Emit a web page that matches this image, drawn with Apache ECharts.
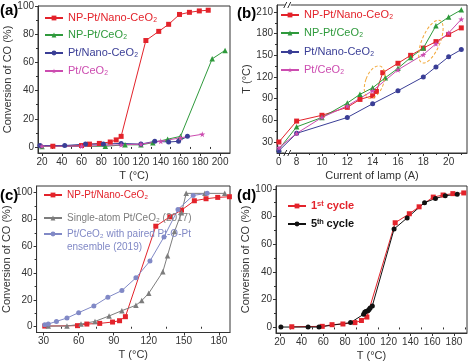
<!DOCTYPE html>
<html><head><meta charset="utf-8">
<script src="https://cdn.jsdelivr.net/npm/echarts@6/dist/echarts.min.js"></script>
<style>html,body{margin:0;padding:0;background:#fff}#c{width:474px;height:363px}</style>
</head><body><div id="c"></div>
<script>
// ---------- DATA ----------
// Panel (a): CO conversion vs T
const aRedT = [31, 60, 68, 78, 89, 95, 100, 125, 138, 148, 159, 169, 179, 188];
const aRedC = [0.5, 1, 2, 2.5, 3.5, 5, 7.5, 75.5, 82, 87, 94, 95.5, 96.5, 97];
const aGreenT = [20, 84, 104, 120, 132, 147, 160, 192, 205];
const aGreenC = [0.3, 0.5, 1.5, 1.5, 3, 5.5, 7.5, 62.5, 68.5];
const aBlueT = [18, 43, 64, 82, 100, 120, 134, 148, 158, 167];
const aBlueC = [1, 1, 2, 2, 2.5, 2, 4, 3.5, 4, 7.5];
const aPinkT = [20, 60, 100, 120, 140, 160, 182];
const aPinkC = [0.5, 0.5, 1.5, 2, 4, 6.5, 9];
// Panel (b): T vs current of lamp
const bRedI = [0, 8, 10, 12, 13, 14, 14.3, 14.8, 16, 17, 18, 19, 20, 21];
const bRedT = [30, 59, 67, 78, 89, 94, 100, 126, 139, 150, 160, 169, 179, 188];
const bGreenI = [0, 8, 10, 12, 13, 14, 15, 16, 17, 18, 19, 20, 21];
const bGreenT = [20, 51, 64, 84, 96, 105, 119, 132, 147, 160, 191, 203, 213];
const bBlueI = [0, 8, 12, 14, 16, 18, 19, 20, 21];
const bBlueT = [18, 42, 64, 83, 101, 120, 134, 148, 158];
const bPinkI = [0, 8, 10, 12, 14, 16, 18, 19, 20, 21];
const bPinkT = [22, 42, 64, 80, 101, 130, 151, 166, 181, 200];
// Panel (c): comparison with literature
const cRedT = [31, 59, 67, 78, 89, 95, 100, 126, 138, 148, 159, 169, 179, 189];
const cRedC = [0.5, 0.8, 2, 2.5, 3.5, 4.5, 7.5, 75, 82, 87, 94, 95.5, 96.5, 97];
const cGreyT = [34, 50, 62, 74, 86, 97, 109, 114, 120, 132, 136, 142, 148, 152, 168, 185];
const cGreyC = [0.5, 0.5, 2, 4, 8, 12, 16, 19.5, 25, 41, 53, 71, 85, 99.5, 99.5, 99.5];
const cBlueT = [31, 34, 41, 50, 60, 73, 85, 97, 109, 121, 133, 145, 158, 170];
const cBlueC = [1.5, 2, 4, 6.5, 10.5, 15.5, 22, 27, 36.5, 49, 67, 87.5, 98, 99.5];
// Panel (d): cycling
const d1T = [31, 59, 68, 78, 89, 95, 100, 126, 139, 148, 161, 170, 179, 189];
const d1C = [0.5, 0.8, 2, 2.5, 3.5, 5, 7.5, 75.5, 82, 87, 94, 95.5, 96.5, 97];
const d5T = [21, 46, 56, 85, 97, 98, 99, 101, 102, 103, 105, 125, 137, 153, 163, 172, 183];
const d5C = [0.3, 0.3, 0.3, 3.5, 9.5, 11, 11.5, 12, 13, 14, 15.5, 71, 79, 90, 93, 95, 96];
// Tick labels
const aXTicks = [20, 40, 60, 80, 100, 120, 140, 160, 180, 200];
const pctTicks = [0, 20, 40, 60, 80, 100];
const bXTicks = [0, 8, 10, 12, 14, 16, 18, 20];
const bYTicks = [30, 60, 90, 120, 150, 180, 210];
const cXTicks = [30, 60, 90, 120, 150, 180];
const dXTicks = [20, 40, 60, 80, 100, 120, 140, 160, 180];

// ---------- STYLE ----------
const FONT = 'Liberation Sans, Arial, Helvetica, sans-serif';
const AX = '#333';
const RED = '#e3232b', GREEN = '#2f9a3c', NAVY = '#3a3e96', PINK = '#cc4cb0';
const GREY = '#7d7d7d', LBLUE = '#8189c6', BLACK = '#111';
const STAR = 'path://M50,0 L61,35 L98,35 L68,57 L79,91 L50,70 L21,91 L32,57 L2,35 L39,35 Z';
// panel (b) broken axis: current 0 is drawn just left of 8
const B_ZERO = 6.6;
const bMap = v => (v < 8 ? B_ZERO : v);

const grids = [
  {left: 38, top: 6, width: 192, height: 147},
  {left: 277, top: 5, width: 190, height: 148},
  {left: 35, top: 186, width: 195, height: 146.5},
  {left: 276, top: 186, width: 191, height: 147}
].map(g => Object.assign(g, {show: true, borderColor: AX, borderWidth: 1, backgroundColor: 'transparent'}));

const xAxes = [], yAxes = [];
function addAxes(gi, xc, yc) {
  const base = (c, isX) => ({
    type: 'value', gridIndex: gi, min: c.min, max: c.max,
    position: isX ? 'bottom' : 'left',
    splitLine: {show: false},
    axisLine: {show: true, onZero: false, lineStyle: {color: AX, width: 1}},
    axisTick: {show: true, length: 3, customValues: c.ticks, lineStyle: {color: AX}},
    axisLabel: {customValues: c.ticks, fontSize: 10, color: AX, fontFamily: FONT, margin: 4,
      formatter: c.fmt || (v => String(v))},
    name: c.name, nameLocation: 'middle', nameGap: c.gap,
    nameTextStyle: {fontSize: 11, color: AX, fontFamily: FONT}
  });
  const minor = (c, isX) => ({
    type: 'value', gridIndex: gi, min: c.min, max: c.max,
    position: isX ? 'bottom' : 'left',
    splitLine: {show: false}, axisLine: {show: false},
    axisTick: {show: true, length: 2, customValues: c.minor, lineStyle: {color: AX}},
    axisLabel: {show: false}
  });
  xAxes.push(base(xc, true), minor(xc, true));
  yAxes.push(base(yc, false), minor(yc, false));
  return xAxes.length - 2;
}
const range = (a, b, s) => { const r = []; for (let v = a; v <= b + 1e-9; v += s) r.push(v); return r; };

const iA = addAxes(0,
  {min: 16, max: 210, ticks: aXTicks, minor: range(30, 190, 20), name: 'T (°C)', gap: 17},
  {min: -4.3, max: 100, ticks: pctTicks, minor: range(10, 90, 20), name: 'Conversion of CO (%)', gap: 20});
const iB = addAxes(1,
  {min: 6.45, max: 21.45, ticks: bXTicks.map(bMap), minor: range(9, 21, 2), name: 'Current of lamp (A)', gap: 17,
   fmt: v => (v < 8 ? '0' : String(v))},
  {min: 14.8, max: 219.7, ticks: bYTicks, minor: range(45, 195, 30), name: 'T (°C)', gap: 22});
const iC = addAxes(2,
  {min: 24, max: 189.5, ticks: cXTicks, minor: range(45, 165, 30), name: 'T (°C)', gap: 17},
  {min: -4.3, max: 105, ticks: pctTicks, minor: range(10, 90, 20), name: 'Conversion of CO (%)', gap: 20});
const iD = addAxes(3,
  {min: 16.5, max: 192, ticks: dXTicks, minor: range(30, 190, 20), name: 'T (°C)', gap: 17},
  {min: -4, max: 102, ticks: pctTicks, minor: range(10, 90, 20), name: 'Conversion of CO (%)', gap: 20});

const LABEL = {};
const series = [];
function addSeries(id, label, ai, X, Y, color, symbol, size, xmap) {
  LABEL[id] = label;
  series.push({
    name: id, type: 'line', xAxisIndex: ai, yAxisIndex: ai,
    data: X.map((x, i) => [xmap ? xmap(x) : x, Y[i]]),
    symbol, symbolSize: size, showSymbol: true,
    lineStyle: {color, width: 1}, itemStyle: {color},
    emphasis: {disabled: true}, animation: false, z: 3
  });
}
addSeries('a1', 'NP-Pt/Nano-CeO₂', iA, aRedT, aRedC, RED, 'rect', 5);
addSeries('a2', 'NP-Pt/CeO₂', iA, aGreenT, aGreenC, GREEN, 'triangle', 5.5);
addSeries('a3', 'Pt/Nano-CeO₂', iA, aBlueT, aBlueC, NAVY, 'circle', 5);
addSeries('a4', 'Pt/CeO₂', iA, aPinkT, aPinkC, PINK, STAR, 6);
addSeries('b1', 'NP-Pt/Nano-CeO₂', iB, bRedI, bRedT, RED, 'rect', 5, bMap);
addSeries('b2', 'NP-Pt/CeO₂', iB, bGreenI, bGreenT, GREEN, 'triangle', 5.5, bMap);
addSeries('b3', 'Pt/Nano-CeO₂', iB, bBlueI, bBlueT, NAVY, 'circle', 5, bMap);
addSeries('b4', 'Pt/CeO₂', iB, bPinkI, bPinkT, PINK, STAR, 6, bMap);
addSeries('c1', 'NP-Pt/Nano-CeO₂', iC, cRedT, cRedC, RED, 'rect', 5);
addSeries('c2', 'Single-atom Pt/CeO₂ (2017)', iC, cGreyT, cGreyC, GREY, 'triangle', 5.5);
addSeries('c3', 'Pt/CeO₂ with paired Pt-O-Pt', iC, cBlueT, cBlueC, LBLUE, 'circle', 5);
addSeries('d1', '1ˢᵗ cycle', iD, d1T, d1C, RED, 'rect', 5);
addSeries('d2', '5ᵗʰ cycle', iD, d5T, d5C, BLACK, 'circle', 5);

function leg(id, left, cy, color, size, bold) {
  return {
    data: [id], left, top: cy - 7, orient: 'vertical', padding: 0, itemGap: 0,
    itemWidth: 18, itemHeight: 6, selectedMode: false,
    formatter: n => LABEL[n],
    textStyle: {color, fontSize: size, fontFamily: FONT, fontWeight: bold ? 'bold' : 'normal', lineHeight: 14}
  };
}
const legends = [
  leg('a1', 44, 18, RED, 11), leg('a2', 44, 35, GREEN, 11), leg('a3', 44, 53, NAVY, 11), leg('a4', 44, 71, PINK, 11),
  leg('b1', 280, 15, RED, 11), leg('b2', 280, 33, GREEN, 11), leg('b3', 280, 52, NAVY, 11), leg('b4', 280, 70, PINK, 11),
  leg('c1', 43, 195, RED, 10), leg('c2', 43, 218, GREY, 10), leg('c3', 43, 234, LBLUE, 10),
  leg('d1', 287, 206, RED, 11, true), leg('d2', 287, 224, BLACK, 11, true)
];

const panelLabel = (t, x, y) => ({type: 'text', left: x, top: y, z: 10,
  style: {text: t, font: 'bold 15px ' + FONT, fill: '#000'}});

const chart = echarts.init(document.getElementById('c'), null, {renderer: 'canvas'});
chart.setOption({
  animation: false,
  backgroundColor: '#fff',
  grid: grids, xAxis: xAxes, yAxis: yAxes, series, legend: legends
});

// annotations computed from data coordinates
const px = (ai, x, y) => chart.convertToPixel({xAxisIndex: ai, yAxisIndex: ai}, [x, y]);
const e1 = px(iB, 14.15, 113), e2 = px(iB, 18.6, 169);
const brk = (x, y) => ({type: 'group', z: 20, children: [
  {type: 'rect', shape: {x: x - 3, y: y - 2, width: 6, height: 4}, style: {fill: '#fff'}},
  {type: 'line', shape: {x1: x - 4, y1: y + 3, x2: x - 1, y2: y - 3}, style: {stroke: AX, lineWidth: 1}},
  {type: 'line', shape: {x1: x, y1: y + 3, x2: x + 3, y2: y - 3}, style: {stroke: AX, lineWidth: 1}}
]});
const bx = px(iB, 7.3, 14.8)[0];
chart.setOption({graphic: [
  panelLabel('(a)', 0, 3), panelLabel('(b)', 237, 6), panelLabel('(c)', 0, 188), panelLabel('(d)', 237, 188),
  {type: 'text', left: 67, top: 242, z: 10, style: {text: 'ensemble (2019)', font: '10px ' + FONT, fill: LBLUE}},
  {type: 'ellipse', z: 15, x: e1[0], y: e1[1], rotation: -0.35,
   shape: {cx: 0, cy: 0, rx: 9, ry: 17}, style: {fill: 'none', stroke: '#f2a93b', lineWidth: 1, lineDash: [3, 2]}},
  {type: 'ellipse', z: 15, x: e2[0], y: e2[1], rotation: -0.4,
   shape: {cx: 0, cy: 0, rx: 9, ry: 23}, style: {fill: 'none', stroke: '#f2a93b', lineWidth: 1, lineDash: [3, 2]}},
  brk(bx, 153), brk(bx, 5)
]});
</script></body></html>
